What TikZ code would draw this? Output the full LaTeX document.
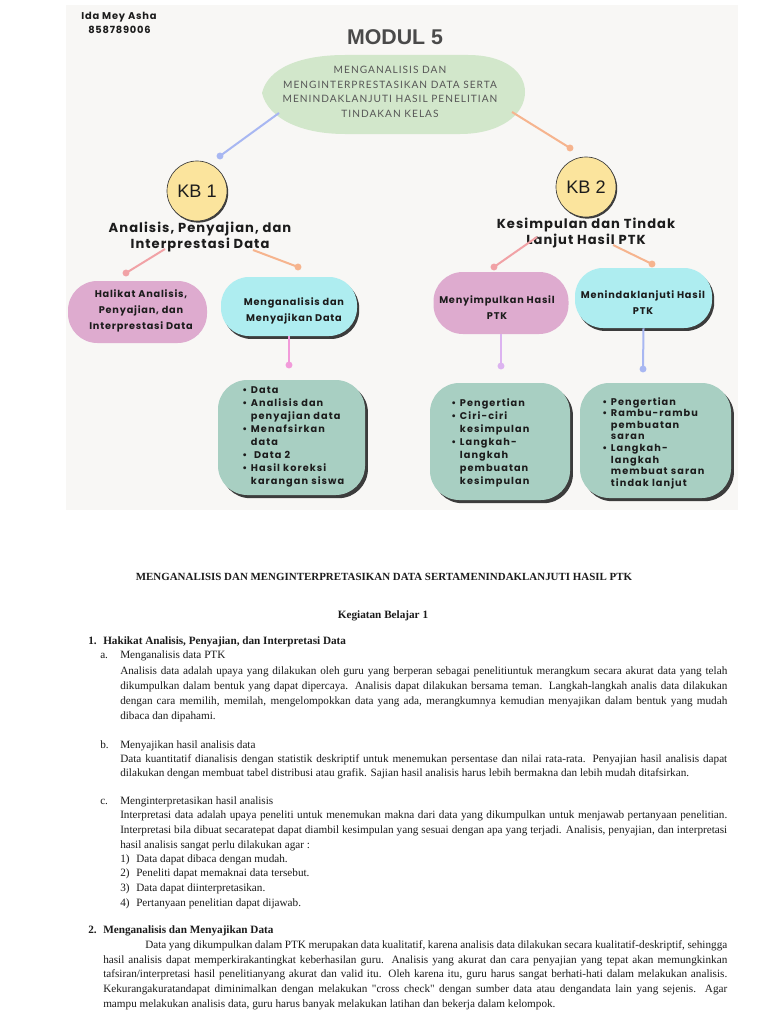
\documentclass[tikz,border=0pt]{standalone}
\usepackage{fontspec}
\setmainfont{Liberation Serif}
\newfontfamily\rnd[LetterSpace=8]{Poppins}
\newfontfamily\rndb[LetterSpace=11]{Poppins}
\newfontfamily\capsf[LetterSpace=10]{Lato}
\newfontfamily\arialf{Liberation Sans}
\usetikzlibrary{shadows}
\definecolor{bgc}{HTML}{F8F7F5}
\definecolor{sage}{HTML}{D2E7CB}
\definecolor{yel}{HTML}{FBE49D}
\definecolor{mauve}{HTML}{DEABCF}
\definecolor{cyanb}{HTML}{AEEDF0}
\definecolor{tealb}{HTML}{A8CFC2}
\definecolor{lblue}{HTML}{A8B7F2}
\definecolor{lorange}{HTML}{F6B48E}
\definecolor{lsalmon}{HTML}{F1A2A6}
\definecolor{mpink}{HTML}{F29BDA}
\definecolor{lilac}{HTML}{DCB3F0}
\definecolor{shad}{HTML}{3C3C3C}
\definecolor{ink}{HTML}{1C1C1C}
\definecolor{gtxt}{HTML}{575757}
\definecolor{modc}{HTML}{4A4A4A}
\newcommand\fullline[2]{\hbox to #1{#2}}
\newcommand\bu{\makebox[6.5pt][l]{\textbullet}}
\newcommand\cu{\hspace*{6.5pt}}
\begin{document}
\begin{tikzpicture}[x=0.75pt,y=-0.75pt,
  conn/.style={line width=1.5pt},
  mauvebox/.style={fill=mauve, rounded corners=22pt, inner sep=0pt},
  cyanbox/.style={fill=cyanb, rounded corners=21pt, inner sep=0pt,
    drop shadow={shadow xshift=1.6pt, shadow yshift=-2.2pt, opacity=1, fill=shad}},
  tealbox/.style={fill=tealb, rounded corners=22pt, inner sep=0pt,
    drop shadow={shadow xshift=2.2pt, shadow yshift=-2.4pt, opacity=1, fill=shad}},
  kbc/.style={circle, fill=yel, draw=shad, line width=0.5pt, minimum size=45pt, inner sep=0pt,
    font=\arialf\fontsize{13.6}{15}\selectfont, text=ink,
    drop shadow={shadow xshift=0.9pt, shadow yshift=-1.2pt, opacity=1, fill=shad}},
  lab/.style={inner sep=0pt, align=center, text=ink, font=\rnd\bfseries\fontsize{7.3}{12}\selectfont},
  kbt/.style={inner sep=0pt, align=center, text=ink, font=\rnd\bfseries\fontsize{9.8}{12}\selectfont},
  bt/.style={inner sep=0pt, anchor=mid west, text=ink, font=\rndb\bfseries\fontsize{7.3}{10}\selectfont},
  body/.style={inner sep=0pt, text=ink, anchor=base west, font=\fontsize{8.4}{10.9}\selectfont},
  bodyb/.style={body, font=\bfseries\fontsize{8.4}{10.9}\selectfont}
]
\useasboundingbox (0,0) rectangle (768,1024);
\fill[white] (0,0) rectangle (768,1024);
\fill[bgc] (66,5) rectangle (738,510);

% ---------- header ----------
\node[inner sep=0pt, text=ink, font=\rnd\bfseries\fontsize{7.4}{9}\selectfont] (name) at (119,17) {Ida Mey Asha};
\node[inner sep=0pt, text=ink, font=\rnd\bfseries\fontsize{7.4}{9}\selectfont] (nim) at (119.5,30) {858789006};
\node[inner sep=0pt, text=modc, font=\arialf\bfseries\fontsize{16}{18}\selectfont] (modul) at (395,37) {MODUL 5};

% ---------- main blob ----------
\fill[sage] (262,93) .. controls (268,68) and (300,55) .. (345,55) -- (468,55)
  .. controls (505,55) and (525,72) .. (525,92)
  .. controls (525,115) and (500,134) .. (460,134) -- (345,134)
  .. controls (300,134) and (268,118) .. (262,93) -- cycle;
\node[inner sep=0pt, align=center, text=gtxt, font=\capsf\fontsize{7.6}{11}\selectfont] (blob) at (390,92)
  {MENGANALISIS DAN\\MENGINTERPRESTASIKAN DATA SERTA\\MENINDAKLANJUTI HASIL PENELITIAN\\TINDAKAN KELAS};
\coordinate (s1) at (279,113);
\coordinate (s2) at (512,112);

% ---------- KB circles ----------
\node[kbc] (kb1) at (197,191) {KB 1};
\node[kbc] (kb2) at (586,187) {KB 2};
\coordinate (d1) at (220,156);
\coordinate (d2) at (570,148);
\draw[conn, lblue] (s1) -- (d1);
\draw[conn, lorange] (s2) -- (d2);
\fill[lblue] (d1) circle (2.6pt);
\fill[lorange] (d2) circle (2.6pt);

\node[kbt] (kb1t) at (200,237) {Analisis, Penyajian, dan\\Interprestasi Data};
\node[kbt] (kb2t) at (586,233) {Kesimpulan dan Tindak\\Lanjut Hasil PTK};

% ---------- second level ----------
\node[mauvebox, minimum width=104.25pt, minimum height=46.5pt] (h1) at (137.5,312) {};
\node[lab] (h1t) at (141,311) {Halikat Analisis,\\Penyajian, dan\\Interprestasi Data};
\node[cyanbox, minimum width=102pt, minimum height=44.25pt] (c1) at (289,306.5) {};
\node[lab] (c1t) at (294,311) {Menganalisis dan\\Menyajikan Data};
\node[mauvebox, minimum width=101.25pt, minimum height=46.5pt] (h2) at (501,303) {};
\node[lab] (h2t) at (497,307.5) {Menyimpulkan Hasil\\PTK};
\node[cyanbox, minimum width=102.75pt, minimum height=45pt] (c2) at (643.5,298) {};
\node[lab] (c2t) at (643,302.5) {Menindaklanjuti Hasil\\PTK};

\coordinate (s3) at (165,249);
\coordinate (s4) at (253,250);
\coordinate (s5) at (537,237);
\coordinate (s6) at (613,245);
\coordinate (d3) at (126,273);
\coordinate (d4) at (298,267);
\coordinate (d5) at (494,267);
\coordinate (d6) at (652,264);
\draw[conn, lsalmon] (s3) -- (d3);
\draw[conn, lorange] (s4) -- (d4);
\draw[conn, lsalmon] (s5) -- (d5);
\draw[conn, lorange] (s6) -- (d6);
\fill[lsalmon] (d3) circle (2.6pt);
\fill[lorange] (d4) circle (2.6pt);
\fill[lsalmon] (d5) circle (2.6pt);
\fill[lorange] (d6) circle (2.6pt);

% ---------- third level ----------
\coordinate (d7) at (289,365);
\coordinate (d8) at (501,366);
\coordinate (d9) at (643,369);
\draw[conn, mpink] (c1.south) -- (d7);
\draw[conn, lilac] (h2.south) -- (d8);
\draw[conn, lblue] (c2.south) -- (d9);
\fill[mpink] (d7) circle (2.6pt);
\fill[lilac] (d8) circle (2.6pt);
\fill[lblue] (d9) circle (2.6pt);

\node[tealbox, minimum width=110.25pt, minimum height=86.25pt] (t1) at (291.5,437.5) {};
\node[tealbox, minimum width=105pt, minimum height=87.75pt] (t2) at (500,441.5) {};
\node[tealbox, minimum width=113.25pt, minimum height=86.25pt] (t3) at (655.5,440.5) {};

\foreach \t [count=\i] in {{\bu Data},{\bu Analisis dan},{\cu penyajian data},{\bu Menafsirkan},{\cu data},{\bu\ Data 2},{\bu Hasil koreksi},{\cu karangan siswa}}
  \node[bt] (ta\i) at (242,{390+13.1*(\i-1)}) {\t};
\foreach \t [count=\i] in {{\bu Pengertian},{\bu Ciri-ciri},{\cu kesimpulan},{\bu Langkah-},{\cu langkah},{\cu pembuatan},{\cu kesimpulan}}
  \node[bt] (tb\i) at (451,{403+13.1*(\i-1)}) {\t};
\foreach \t [count=\i] in {{\bu Pengertian},{\bu Rambu-rambu},{\cu pembuatan},{\cu saran},{\bu Langkah-},{\cu langkah},{\cu membuat saran},{\cu tindak lanjut}}
  \node[bt] (tc\i) at (602,{402+11.6*(\i-1)}) {\t};

% ---------- document text ----------
\node[inner sep=0pt, anchor=base, text=ink, font=\bfseries\fontsize{8.2}{10}\selectfont] (title) at (384,580)
  {MENGANALISIS DAN MENGINTERPRETASIKAN DATA SERTAMENINDAKLANJUTI HASIL PTK};
\node[inner sep=0pt, anchor=base, text=ink, font=\bfseries\fontsize{8.4}{10}\selectfont] (kb) at (383,618) {Kegiatan Belajar 1};

\node[bodyb] (n1) at (88,644) {1.};
\node[bodyb] (h1x) at (103,644) {Hakikat Analisis, Penyajian, dan Interpretasi Data};
\node[body] (na) at (100,658) {a.};
\node[body] (ha) at (120,658) {Menganalisis data PTK};
\node[body] (pa1) at (120,674) {\fullline{455.25pt}{Analisis data adalah upaya yang dilakukan oleh guru yang berperan sebagai penelitiuntuk merangkum secara akurat data yang telah}};
\node[body] (pa2) at (120,689) {\fullline{455.25pt}{dikumpulkan dalam bentuk yang dapat dipercaya. Analisis dapat dilakukan bersama teman. Langkah-langkah analis data dilakukan}};
\node[body] (pa3) at (120,704) {\fullline{455.25pt}{dengan cara memilih, memilah, mengelompokkan data yang ada, merangkumnya kemudian menyajikan dalam bentuk yang mudah}};
\node[body] (pa4) at (120,719) {dibaca dan dipahami.};

\node[body] (nb) at (100,748) {b.};
\node[body] (hb) at (120,748) {Menyajikan hasil analisis data};
\node[body] (pb1) at (120,762) {\fullline{455.25pt}{Data kuantitatif dianalisis dengan statistik deskriptif untuk menemukan persentase dan nilai rata-rata. Penyajian hasil analisis dapat}};
\node[body] (pb2) at (120,776) {dilakukan dengan membuat tabel distribusi atau grafik. Sajian hasil analisis harus lebih bermakna dan lebih mudah ditafsirkan.};

\node[body] (nc) at (100,804) {c.};
\node[body] (hc) at (120,804) {Menginterpretasikan hasil analisis};
\node[body] (pc1) at (120,818) {\fullline{455.25pt}{Interpretasi data adalah upaya peneliti untuk menemukan makna dari data yang dikumpulkan untuk menjawab pertanyaan penelitian.}};
\node[body] (pc2) at (120,833) {\fullline{455.25pt}{Interpretasi bila dibuat secaratepat dapat diambil kesimpulan yang sesuai dengan apa yang terjadi. Analisis, penyajian, dan interpretasi}};
\node[body] (pc3) at (120,848) {hasil analisis sangat perlu dilakukan agar :};
\node[body] (l1n) at (120,862) {1)};
\node[body] (l1) at (136,862) {Data dapat dibaca dengan mudah.};
\node[body] (l2n) at (120,876) {2)};
\node[body] (l2) at (136,876) {Peneliti dapat memaknai data tersebut.};
\node[body] (l3n) at (120,891) {3)};
\node[body] (l3) at (136,891) {Data dapat diinterpretasikan.};
\node[body] (l4n) at (120,906) {4)};
\node[body] (l4) at (136,906) {Pertanyaan penelitian dapat dijawab.};

\node[bodyb] (n2) at (88,933) {2.};
\node[bodyb] (h2x) at (103,933) {Menganalisis dan Menyajikan Data};
\node[body] (q1) at (145,948) {\fullline{436.5pt}{Data yang dikumpulkan dalam PTK merupakan data kualitatif, karena analisis data dilakukan secara kualitatif-deskriptif, sehingga}};
\node[body] (q2) at (103,963) {\fullline{468pt}{hasil analisis dapat memperkirakantingkat keberhasilan guru. Analisis yang akurat dan cara penyajian yang tepat akan memungkinkan}};
\node[body] (q3) at (103,977) {\fullline{468pt}{tafsiran/interpretasi hasil penelitianyang akurat dan valid itu. Oleh karena itu, guru harus sangat berhati-hati dalam melakukan analisis.}};
\node[body] (q4) at (103,992) {\fullline{468pt}{Kekurangakuratandapat diminimalkan dengan melakukan \textquotedbl cross check\textquotedbl{} dengan sumber data atau dengandata lain yang sejenis. Agar}};
\node[body] (q5) at (103,1007) {mampu melakukan analisis data, guru harus banyak melakukan latihan dan bekerja dalam kelompok.};
\end{tikzpicture}
\end{document}
